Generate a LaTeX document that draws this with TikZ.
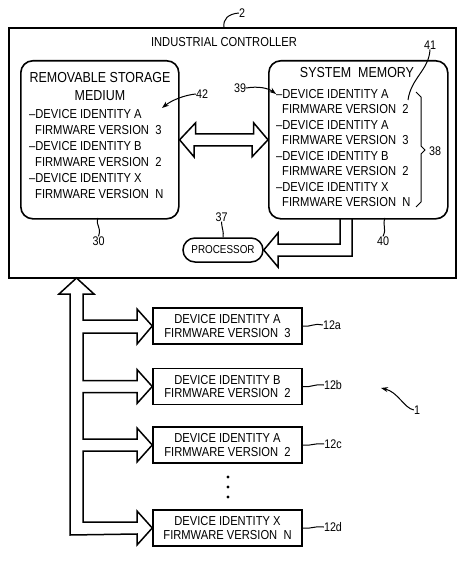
\documentclass[tikz,border=0pt]{standalone}
\usepackage{fontspec}
\newfontfamily\pat[FakeStretch=0.86]{Liberation Sans}
\usetikzlibrary{arrows.meta}
\begin{document}
\begin{tikzpicture}[x=1pt,y=-1pt,
  ln/.style={line width=1.5pt, line join=miter},
  txt/.style={font=\pat\fontsize{13}{15}\selectfont, inner sep=0pt},
  ttl/.style={font=\pat\fontsize{14.5}{17}\selectfont, inner sep=0pt},
  num/.style={font=\pat\fontsize{12.5}{14}\selectfont, inner sep=0pt},
  lead/.style={line width=1pt},
  ptr/.style={line width=1pt, -{Stealth[length=7pt,width=5pt]}},
  rbox/.style={draw, line width=1.6pt, rounded corners=12pt, inner sep=0pt},
  dbox/.style={draw, line width=1.5pt, minimum width=149pt, minimum height=36pt, align=center, font=\pat\fontsize{13}{13.5}\selectfont, inner sep=0pt},
]
\useasboundingbox (0,0) rectangle (474,561);

% industrial controller
\node (ic) [draw, line width=1.6pt, minimum width=447pt, minimum height=250pt, inner sep=0pt, anchor=north west] at (8,27) {};
\node (ictitle) [txt] at (224,42) {INDUSTRIAL CONTROLLER};
\node (l2) [num] at (242,13) {2};
\draw[lead] (224,27) .. controls (223,19) and (228,14) .. (l2.west);

% removable storage medium
\node (rsm) [rbox, minimum width=158pt, minimum height=158pt, anchor=north west] at (20,60) {};
\node (rsmt1) [ttl] at (100,78) {REMOVABLE STORAGE};
\node (rsmt2) [ttl] at (100,96) {MEDIUM};
\node (s1) [txt, anchor=west] at (29,114) {–DEVICE IDENTITY A};
\node (s2) [txt, anchor=west] at (35,130) {FIRMWARE VERSION\ \ 3};
\node (s3) [txt, anchor=west] at (29,146) {–DEVICE IDENTITY B};
\node (s4) [txt, anchor=west] at (35,162) {FIRMWARE VERSION\ \ 2};
\node (s5) [txt, anchor=west] at (29,178) {–DEVICE IDENTITY X};
\node (s6) [txt, anchor=west] at (35,194) {FIRMWARE VERSION\ \ N};
\node (l42) [num] at (202,94) {42};
\draw[ptr] (l42.west) .. controls (185,95) and (172,100) .. (162,108);
\node (l30) [num] at (98.5,241) {30};
\draw[lead] (98,218) .. controls (95,226) and (102,226) .. (l30.north);

% system memory
\node (sm) [rbox, minimum width=179pt, minimum height=158pt, anchor=north west] at (268,60) {};
\node (smt) [ttl] at (357,73) {SYSTEM\ \ MEMORY};
\node (m1) [txt, anchor=west] at (276,94) {–DEVICE IDENTITY A};
\node (m2) [txt, anchor=west] at (282,109.5) {FIRMWARE VERSION\ \ 2};
\node (m3) [txt, anchor=west] at (276,125) {–DEVICE IDENTITY A};
\node (m4) [txt, anchor=west] at (282,140.5) {FIRMWARE VERSION\ \ 3};
\node (m5) [txt, anchor=west] at (276,156) {–DEVICE IDENTITY B};
\node (m6) [txt, anchor=west] at (282,171.5) {FIRMWARE VERSION\ \ 2};
\node (m7) [txt, anchor=west] at (276,187) {–DEVICE IDENTITY X};
\node (m8) [txt, anchor=west] at (282,202.5) {FIRMWARE VERSION\ \ N};
\node (l39) [num] at (240,88) {39};
\draw[ptr] (l39.east) .. controls (258,86) and (268,88) .. (m1.west);
\node (l41) [num] at (430,45) {41};
\draw[lead] (l41.south) .. controls (429,70) and (411,78) .. (408,100);
\draw[lead] (416,92) -- (421,97) -- (421,146) -- (425,150) -- (421,154) -- (421,202) -- (416,207);
\node (l38) [num] at (435,151) {38};
\node (l40) [num] at (383,241) {40};
\draw[lead] (385,218) .. controls (382,226) and (387,228) .. (l40.north);

% double arrow between storage and memory
\draw[ln] (rsm.east) -- ++(16,-17) -- ++(0,11) -- ++(58,0) -- ++(0,-11) -- (sm.west)
  -- ++(-16,17) -- ++(0,-11) -- ++(-58,0) -- ++(0,11) -- cycle;

% processor
\node (proc) [draw, line width=1.5pt, rounded corners=12pt, minimum width=80pt, minimum height=24pt, inner sep=0pt, font=\pat\fontsize{11.5}{13}\selectfont] at (223,250) {PROCESSOR};
\node (l37) [num] at (221.5,217) {37};
\draw[lead] (l37.south) .. controls (222,230) and (224,231) .. (proc.north);
\draw[ln] (340,218) -- (340,244) -- (278,244) -- (278,233) -- (proc.east) -- (278,267) -- (278,256) -- (352,256) -- (352,218);

% devices
\node (d1) [dbox] at (227.5,326) {DEVICE IDENTITY A\\FIRMWARE VERSION\ \ 3};
\node (d2) [dbox] at (227.5,386.5) {DEVICE IDENTITY B\\FIRMWARE VERSION\ \ 2};
\node (d3) [dbox] at (227.5,445) {DEVICE IDENTITY A\\FIRMWARE VERSION\ \ 2};
\node (d4) [dbox] at (227.5,528) {DEVICE IDENTITY X\\FIRMWARE VERSION\ \ N};
\node (l12a) [num] at (332,325) {12a};
\node (l12b) [num] at (333,385) {12b};
\node (l12c) [num] at (333,444) {12c};
\node (l12d) [num] at (333,527) {12d};
\draw[lead] (d1.east) .. controls (313,327) and (312,323) .. (l12a.west);
\draw[lead] (d2.east) .. controls (313,387.5) and (312,384) .. (l12b.west);
\draw[lead] (d3.east) .. controls (313,446) and (312,443) .. (l12c.west);
\draw[lead] (d4.east) .. controls (313,529) and (312,526) .. (l12d.west);
\foreach \yy in {477,487,497} \fill (228,\yy) circle (1.6);

% bus
\coordinate (bustip) at (76.5,278);
\draw[ln] (70,535) -- (70,294) -- (59,294) -- (bustip) -- (94,294) -- (83,294)
  -- (83,320) -- (137,320) -- (137,309) -- (d1.west) -- (137,344) -- (137,333) -- (83,333)
  -- (83,380.5) -- (137,380.5) -- (137,369.5) -- (d2.west) -- (137,403.5) -- (137,392.5) -- (83,392.5)
  -- (83,439) -- (137,439) -- (137,428) -- (d3.west) -- (137,462) -- (137,451) -- (83,451)
  -- (83,522) -- (137,522) -- (137,511) -- (d4.west) -- (137,545) -- (137,534) -- cycle;

% system label
\node (l1) [num] at (417,410) {1};
\draw[ptr] (l1.west) .. controls (404,408) and (398,392) .. (381,388);
\end{tikzpicture}
\end{document}
